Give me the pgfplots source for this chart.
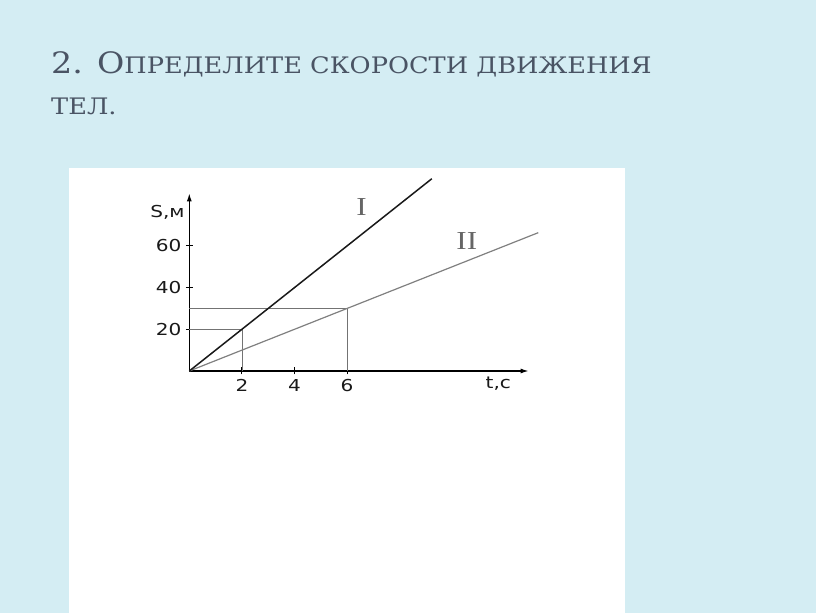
\documentclass[border=0pt]{standalone}
\usepackage{fontspec}
\setmainfont{DejaVu Sans}
\newfontfamily\titlefont[FakeStretch=1.13]{DejaVu Serif}
\newfontfamily\romfont[FakeStretch=1.2]{Liberation Serif}
\newfontfamily\labfont[FakeStretch=1.22]{DejaVu Sans}
\usepackage{pgfplots}
\pgfplotsset{compat=1.18}
\usetikzlibrary{arrows.meta}
\definecolor{bgblue}{RGB}{212,237,243}
\definecolor{titlecol}{RGB}{74,84,100}
\begin{document}
\begin{tikzpicture}
\fill[bgblue] (0,0) rectangle (816bp,613bp);
\fill[white] (69bp,0) rectangle (625bp,445bp);
\node[anchor=base west, inner sep=0pt, text=titlecol] at (51bp,539.7bp)
  {\titlefont{\fontsize{29.6}{30}\selectfont 2. О}{\fontsize{22.8}{23}\selectfont ПРЕДЕЛИТЕ СКОРОСТИ ДВИЖЕНИЯ}};
\node[anchor=base west, inner sep=0pt, text=titlecol] at (51bp,498bp)
  {\titlefont\fontsize{22.8}{23}\selectfont ТЕЛ.};
\begin{axis}[
  at={(189.3bp,242bp)}, anchor=origin,
  x=26.3bp, y=2.085bp,
  xmin=0, xmax=12.9, ymin=0, ymax=85.2,
  axis lines=left,
  axis line style={line width=1.2bp, -{Latex[length=8bp,width=5bp]}},
  xtick={2,4,6}, ytick={20,40,60},
  tick align=center, major tick length=7bp,
  tick style={line width=1bp, black},
  ticklabel style={font=\labfont\fontsize{16.5}{17}\selectfont, text=black!90},
  /pgf/number format/assume math mode=true,
  xticklabel style={yshift=-1bp},
  yticklabel style={xshift=-1bp},
  clip=false,
]
\addplot[black!55, line width=0.75bp] coordinates {(0,30) (6,30) (6,0)};
\addplot[black!55, line width=0.75bp] coordinates {(0,20) (2,20) (2,0)};
\addplot[black!50, line width=1.2bp] coordinates {(0,0) (13.27,66.35)};
\addplot[black!90, line width=1.5bp] coordinates {(0,0) (9.22,92.2)};
\node[font=\labfont\fontsize{16.5}{17}\selectfont, text=black!90] at (axis cs:-0.83,76) {S,м};
\node[font=\labfont\fontsize{16.5}{17}\selectfont, text=black!90] at (axis cs:11.75,-6) {t,с};
\node[font=\romfont\fontsize{26}{26}\selectfont, text=black!60] at (axis cs:6.55,78.6) {I};
\node[font=\romfont\fontsize{26}{26}\selectfont, text=black!60] at (axis cs:10.55,62.3) {II};
\end{axis}
\pgfresetboundingbox
\path[use as bounding box] (0,0) rectangle (816bp,613bp);
\end{tikzpicture}
\end{document}
